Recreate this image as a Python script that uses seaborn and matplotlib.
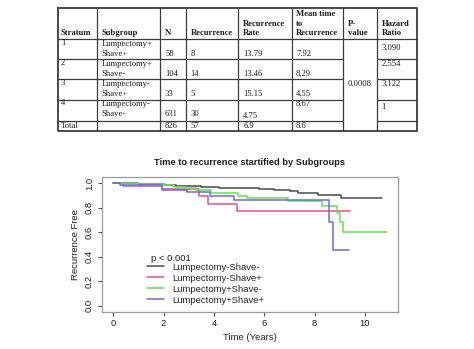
import matplotlib
matplotlib.use("Agg")
import matplotlib.pyplot as plt
import seaborn as sns
import pandas as pd

# ---- summary table ----
header = ["Stratum", "Subgroup", "N", "Recurrence", "Recurrence\nRate",
          "Mean time\nto\nRecurrence", "P-\nvalue", "Hazard\nRatio"]
stratum = ["1", "2", "3", "4"]
subgroup = ["Lumpectomy+\nShave+", "Lumpectomy+\nShave-", "Lumpectomy-\nShave+", "Lumpectomy-\nShave-"]
n_patients = ["58", "104", "33", "631"]
recurrences = ["8", "14", "5", "30"]
recurrence_rate = ["13.79", "13.46", "15.15", "4.75"]
mean_time = ["7.92", "8.29", "4.55", "8.67"]
p_value = "0.0008"
hazard_ratio = ["3.090", "2.554", "3.122", "1"]
total_row = ["Total", "", "826", "57", "6.9", "8.6"]

# ---- Kaplan-Meier curves ----
groups = ["Lumpectomy-Shave-", "Lumpectomy-Shave+", "Lumpectomy+Shave-", "Lumpectomy+Shave+"]
colors = ["#4a4a4a", "#e8508a", "#62e64a", "#6b6be0"]

time_ls_neg = [0, 0.5, 1.0, 1.5, 2.0, 2.5, 3.0, 3.5, 4.2, 5.0, 5.8, 6.4, 7.02, 7.33, 8.15, 9.03, 10.66]
surv_ls_neg = [1.0, 0.998, 0.995, 0.99, 0.985, 0.979, 0.973, 0.967, 0.962, 0.957, 0.952, 0.946, 0.937, 0.918, 0.904, 0.877, 0.877]

time_ls_pos = [0, 0.4, 1.95, 3.42, 3.77, 4.9, 9.4]
surv_ls_pos = [1.0, 0.972, 0.95, 0.895, 0.828, 0.77, 0.77]

time_lp_neg = [0, 1.0, 1.6, 2.0, 2.4, 2.9, 3.3, 3.9, 4.96, 5.3, 6.95, 8.28, 8.88, 9.0, 9.11, 10.86]
surv_lp_neg = [1.0, 0.995, 0.99, 0.98, 0.97, 0.96, 0.945, 0.918, 0.895, 0.875, 0.852, 0.809, 0.757, 0.686, 0.604, 0.604]

time_lp_pos = [0, 0.27, 1.92, 2.92, 3.84, 4.8, 8.57, 8.74, 9.35]
surv_lp_pos = [1.0, 0.983, 0.945, 0.928, 0.898, 0.858, 0.686, 0.455, 0.455]

x_ticks = [0, 2, 4, 6, 8, 10]
y_ticks = [0.0, 0.2, 0.4, 0.6, 0.8, 1.0]

curves = pd.concat([
    pd.DataFrame({"time": t, "surv": s, "group": g})
    for g, t, s in zip(groups,
                       [time_ls_neg, time_ls_pos, time_lp_neg, time_lp_pos],
                       [surv_ls_neg, surv_ls_pos, surv_lp_neg, surv_lp_pos])
], ignore_index=True)

sns.set_theme(style="white")
plt.rcParams["font.family"] = ["Liberation Sans", "DejaVu Sans"]

W, H = 474, 349
fig = plt.figure(figsize=(W / 100, H / 100), dpi=100)
fig.patch.set_facecolor("white")

# table canvas in pixel coordinates
tab = fig.add_axes([0, 0, 1, 1])
tab.set_xlim(0, W)
tab.set_ylim(H, 0)
tab.axis("off")

serif = ["Liberation Serif", "DejaVu Serif"]
fs_tab = 6.2
ink = "#1e1e1e"
line_c = "#3c3c3c"

col_x = [57.7, 96.7, 160, 186, 238.3, 292.3, 343.3, 376.7, 416.7]
top, head_bot = 8.3, 39.3
row_tops = [39.3, 59.3, 79.3, 100.0, 120.5]
bottom = 131.0

# outer frame
tab.plot([col_x[0], col_x[-1], col_x[-1], col_x[0], col_x[0]],
         [top, top, bottom, bottom, top], color=line_c, lw=1.3)
for x in col_x[1:-1]:
    tab.plot([x, x], [top, bottom], color=line_c, lw=0.9)
tab.plot([col_x[0], col_x[-1]], [head_bot, head_bot], color=line_c, lw=0.9)
for y in row_tops[1:]:
    tab.plot([col_x[0], col_x[6]], [y, y], color=line_c, lw=0.9)
    tab.plot([col_x[7], col_x[8]], [y, y], color=line_c, lw=0.9)

text_x = [61, 101.7, 165, 190.7, 243.3, 296, 347.7, 381.7]

def put(x, y, s, bold=False):
    tab.text(x, y, s, fontsize=fs_tab, family=serif, color=ink, ha="left", va="center",
             fontweight="bold" if bold else "normal")

# header, bottom-aligned lines
for x, h in zip(text_x, header):
    lines = h.split("\n")
    for i, ln in enumerate(lines):
        put(x, 33.3 - 9.6 * (len(lines) - 1 - i), ln, bold=True)

hazard_off = [9.0, 4.7, 5.0, 6.7]
for r in range(4):
    t0 = row_tops[r]
    put(text_x[0], t0 + 3.3, stratum[r])
    l1, l2 = subgroup[r].split("\n")
    put(text_x[1], t0 + 4.2, l1)
    put(text_x[1], t0 + 14.2, l2)
    put(text_x[2], t0 + 14.4, n_patients[r])
    put(text_x[3], t0 + 14.4, recurrences[r])
    put(text_x[4], t0 + (16.4 if r == 3 else 14.4), recurrence_rate[r])
    put(text_x[5], t0 + (4.4 if r == 3 else 14.4), mean_time[r])
    put(text_x[7], t0 + hazard_off[r], hazard_ratio[r])
put(text_x[6], 84.3, p_value)
for x, s in zip(text_x[:6], total_row):
    put(x, 126.0, s)

# ---- survival plot ----
ax = fig.add_axes([101.7 / W, 1 - 311.7 / H, 296 / W, 134.5 / H])
sns.lineplot(data=curves, x="time", y="surv", hue="group", hue_order=groups,
             palette=colors, estimator=None, drawstyle="steps-post",
             linewidth=1.1, ax=ax)

ax.set_xlim(-0.46, 11.3)
ax.set_ylim(-0.047, 1.047)
ax.set_xticks(x_ticks)
ax.set_xticklabels([str(v) for v in x_ticks])
ax.set_yticks(y_ticks)
ax.set_yticklabels([f"{v:.1f}" for v in y_ticks], rotation=90, va="center")
fs = 6.8
ax.tick_params(axis="both", which="major", length=3.0, width=0.8, color="#555555",
               labelsize=fs, labelcolor=ink, pad=2.5, left=True, bottom=True)
for sp in ax.spines.values():
    sp.set_color("#9a9a9a")
    sp.set_linewidth(0.9)
ax.set_xlabel("Time (Years)", fontsize=fs, color=ink, labelpad=3.5)
ax.set_ylabel("Recurrence Free", fontsize=fs, color=ink, labelpad=4)
ax.set_title("Time to recurrence startified by Subgroups", fontsize=6.7,
             fontweight="bold", color=ink, pad=9)

handles, labels = ax.get_legend_handles_labels()
ax.legend(handles, labels, loc="upper left", frameon=False, fontsize=fs,
          bbox_to_anchor=(147.3 / W, 1 - 262.5 / H), bbox_transform=fig.transFigure,
          borderpad=0, borderaxespad=0, handlelength=1.75, handletextpad=0.9,
          labelspacing=0.22)
fig.text(151 / W, 1 - 258.3 / H, "p < 0.001", fontsize=fs, color=ink, ha="left", va="center")

fig.savefig("out.png", dpi=100, facecolor="white")
